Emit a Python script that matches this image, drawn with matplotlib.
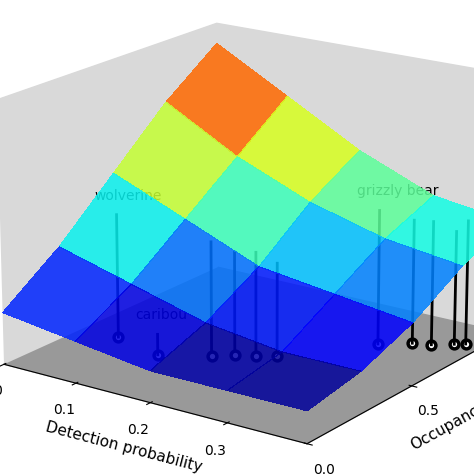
import matplotlib
matplotlib.use("Agg")
import matplotlib.pyplot as plt
import numpy as np

# surface grid (rows: occupancy, cols: detection)
det_grid = [0.0, 0.1, 0.2, 0.3, 0.4]
occ_grid = [0.0, 0.25, 0.5, 0.75, 1.0]
decline = [
    [0.05, 0.04, 0.03, 0.03, 0.03],
    [0.09, 0.07, 0.05, 0.04, 0.04],
    [0.14, 0.11, 0.08, 0.07, 0.06],
    [0.19, 0.15, 0.12, 0.10, 0.09],
    [0.23, 0.19, 0.15, 0.12, 0.11],
]

# species points: detection, occupancy, decline
pt_det = [0.05, 0.12, 0.17, 0.19, 0.21, 0.23, 0.30, 0.33, 0.35, 0.37, 0.38, 0.40]
pt_occ = [0.35, 0.30, 0.38, 0.42, 0.45, 0.48, 0.72, 0.78, 0.80, 0.84, 0.86, 0.90]
pt_dec = [0.12, 0.02, 0.11, 0.10, 0.10, 0.09, 0.13, 0.12, 0.12, 0.11, 0.12, 0.09]
labels = {0: "wolverine", 1: "caribou", 6: "grizzly bear"}

fig = plt.figure(figsize=(4.74, 4.74), dpi=100)
ax = fig.add_axes([-0.12, -0.08, 1.3, 1.2], projection="3d")

X, Y = np.meshgrid(det_grid, occ_grid)
Z = np.array(decline)
ax.plot_surface(X, Y, Z, cmap="jet", linewidth=0, antialiased=False,
                rcount=60, ccount=60, alpha=0.85, vmin=0.03, vmax=0.23)

for i in range(len(pt_det)):
    ax.plot([pt_det[i]] * 2, [pt_occ[i]] * 2, [0, pt_dec[i]], color="black", lw=2, zorder=10)
    ax.scatter(pt_det[i], pt_occ[i], 0, s=40, facecolors="white",
               edgecolors="black", linewidths=2.5, depthshade=False, zorder=11)
    if i in labels:
        ax.text(pt_det[i] - 0.03, pt_occ[i], pt_dec[i] + 0.01, labels[i], fontsize=10, zorder=12)

ax.set_xlim(0, 0.4)
ax.set_ylim(0, 1)
ax.set_zlim(0, 0.25)
ax.set_xticks([0, 0.1, 0.2, 0.3])
ax.set_yticks([0, 0.5, 1])
ax.set_zticks([0, 0.1, 0.2])
ax.set_xlabel("Detection probability", fontsize=11)
ax.set_ylabel("Occupancy", fontsize=11)
ax.set_zlabel("Decline in\ndetected\npower", fontsize=11)
ax.xaxis.set_pane_color((0.85, 0.85, 0.85, 1))
ax.yaxis.set_pane_color((0.85, 0.85, 0.85, 1))
ax.zaxis.set_pane_color((0.6, 0.6, 0.6, 1))
for a in (ax.xaxis, ax.yaxis, ax.zaxis):
    a._axinfo["grid"]["linewidth"] = 0
ax.view_init(elev=18, azim=-55)

fig.savefig("out.png", dpi=100)
